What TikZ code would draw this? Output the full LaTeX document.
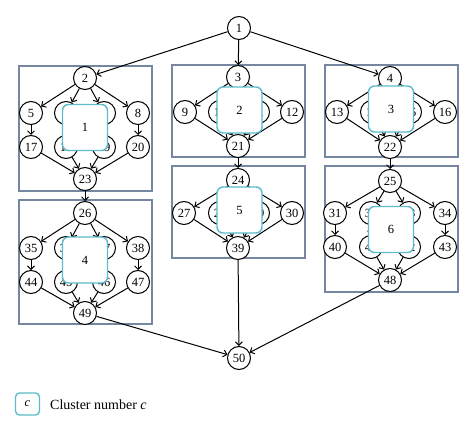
\documentclass[tikz,border=0pt]{standalone}
\usepackage{fontspec}
\setmainfont{Liberation Serif}
\usetikzlibrary{arrows.meta}
\definecolor{boxc}{HTML}{7587A0}
\definecolor{clc}{HTML}{5DBBCB}
\tikzset{
  fnt/.style={font=\fontsize{12.5}{14}\selectfont},
  nd/.style={circle,draw,line width=1pt,minimum size=23pt,inner sep=0pt,fill=white,fnt},
  outer/.style={draw=boxc,line width=1.2pt},
  clbox/.style={draw=clc,line width=1.4pt,fill=white,rounded corners=6pt,minimum width=45pt,minimum height=46pt,fnt},
  ed/.style={line width=1pt,-{Straight Barb[length=3.5pt,width=7pt]}},
}
\begin{document}
\begin{tikzpicture}[x=1pt,y=-1pt]
\useasboundingbox (0,0) rectangle (474,433);
% outer boxes
\draw[outer] (19,66) rectangle (152,191);
\draw[outer] (19,200) rectangle (152,324);
\draw[outer] (172,65) rectangle (305,157);
\draw[outer] (172,166) rectangle (305,258);
\draw[outer] (325,65) rectangle (458,157);
\draw[outer] (325,166) rectangle (458,292);
% nodes
\node[nd] (n1) at (239,28) {1};
% A
\node[nd] (n2) at (85,78) {2};
\node[nd] (n5) at (31,113) {5};
\node[nd] (n6) at (66,113) {6};
\node[nd] (n7) at (104,113) {7};
\node[nd] (n8) at (138,113) {8};
\node[nd] (n17) at (31,147) {17};
\node[nd] (n18) at (66,147) {18};
\node[nd] (n19) at (104,147) {19};
\node[nd] (n20) at (138,147) {20};
\node[nd] (n23) at (85,179) {23};
% B
\node[nd] (n26) at (85,213) {26};
\node[nd] (n35) at (31,248) {35};
\node[nd] (n36) at (66,248) {36};
\node[nd] (n37) at (104,248) {37};
\node[nd] (n38) at (138,248) {38};
\node[nd] (n44) at (31,282) {44};
\node[nd] (n45) at (66,282) {45};
\node[nd] (n46) at (104,282) {46};
\node[nd] (n47) at (138,282) {47};
\node[nd] (n49) at (85,313) {49};
% C
\node[nd] (n3) at (238,77) {3};
\node[nd] (n9) at (185,112) {9};
\node[nd] (n10) at (220,112) {10};
\node[nd] (n11) at (258,112) {11};
\node[nd] (n12) at (292,112) {12};
\node[nd] (n21) at (238,146) {21};
% D
\node[nd] (n24) at (238,180) {24};
\node[nd] (n27) at (184,213) {27};
\node[nd] (n28) at (220,213) {28};
\node[nd] (n29) at (258,213) {29};
\node[nd] (n30) at (292,213) {30};
\node[nd] (n39) at (238,248) {39};
% E
\node[nd] (n4) at (390,78) {4};
\node[nd] (n13) at (337,112) {13};
\node[nd] (n14) at (372,112) {14};
\node[nd] (n15) at (410,112) {15};
\node[nd] (n16) at (445,112) {16};
\node[nd] (n22) at (390,147) {22};
% F
\node[nd] (n25) at (390,181) {25};
\node[nd] (n31) at (335,213) {31};
\node[nd] (n32) at (371,213) {32};
\node[nd] (n33) at (409,213) {33};
\node[nd] (n34) at (445,213) {34};
\node[nd] (n40) at (335,247) {40};
\node[nd] (n41) at (371,247) {41};
\node[nd] (n42) at (409,247) {42};
\node[nd] (n43) at (445,247) {43};
\node[nd] (n48) at (390,280) {48};
% bottom
\node[nd] (n50) at (239,358) {50};
% edges
\foreach \a/\b in {n1/n2,n1/n3,n1/n4,
  n2/n5,n2/n6,n2/n7,n2/n8,n5/n17,n6/n18,n7/n19,n8/n20,n17/n23,n18/n23,n19/n23,n20/n23,n23/n26,
  n26/n35,n26/n36,n26/n37,n26/n38,n35/n44,n36/n45,n37/n46,n38/n47,n44/n49,n45/n49,n46/n49,n47/n49,
  n3/n9,n3/n10,n3/n11,n3/n12,n9/n21,n10/n21,n11/n21,n12/n21,n21/n24,
  n24/n27,n24/n28,n24/n29,n24/n30,n27/n39,n28/n39,n29/n39,n30/n39,
  n4/n13,n4/n14,n4/n15,n4/n16,n13/n22,n14/n22,n15/n22,n16/n22,n22/n25,
  n25/n31,n25/n32,n25/n33,n25/n34,n31/n40,n32/n41,n33/n42,n34/n43,n40/n48,n41/n48,n42/n48,n43/n48,
  n49/n50,n39/n50,n48/n50}
  \draw[ed] (\a) -- (\b);
% cluster boxes
\node[clbox] (c1) at (85,127.5) {1};
\node[clbox] (c4) at (85,260) {4};
\node[clbox] (c2) at (239.5,110) {2};
\node[clbox] (c5) at (239.5,210) {5};
\node[clbox] (c3) at (391,109) {3};
\node[clbox] (c6) at (391,229.5) {6};
% legend
\node[draw=clc,line width=1.4pt,rounded corners=4pt,minimum width=24pt,minimum height=22pt,fnt] (lg) at (27.5,404) {\textit{c}};
\node[anchor=west,font=\fontsize{14}{16}\selectfont,inner sep=0pt] (lgt) at (50,405) {Cluster number \textit{c}};
\end{tikzpicture}
\end{document}
